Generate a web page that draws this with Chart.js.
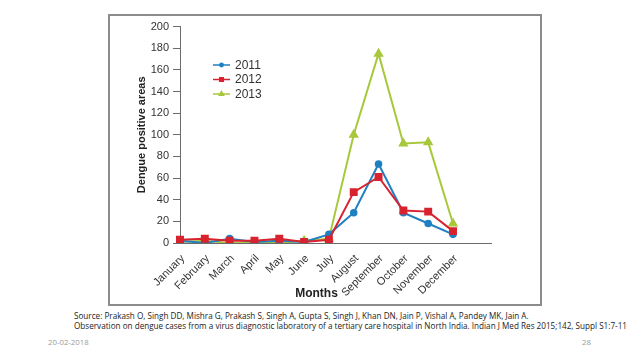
<!DOCTYPE html>
<html>
<head>
<meta charset="utf-8">
<script src="https://cdn.jsdelivr.net/npm/chart.js@4/dist/chart.umd.min.js"></script>
<style>
  html, body { margin: 0; padding: 0; background: #fff; }
  body { width: 638px; height: 359px; position: relative; overflow: hidden; font-family: "Open Sans", "Liberation Sans", sans-serif; }
  #box { position: absolute; left: 108px; top: 14px; width: 434px; height: 292px; box-sizing: border-box; border: 2px solid #8c8c8c; }
  #box canvas { display: block; }
  .src { position: absolute; left: 74px; white-space: nowrap; color: #222; font-size: 8.6px; transform-origin: left center; }
  .foot { position: absolute; top: 337px; color: #9a9a9a; font-size: 7.8px; }
</style>
</head>
<body>
<div id="box"><canvas id="myChart" width="430" height="288"></canvas></div>
<div class="src" id="src1" style="top:310px">Source: Prakash O, Singh DD, Mishra G, Prakash S, Singh A, Gupta S, Singh J, Khan DN, Jain P, Vishal A, Pandey MK, Jain A.</div>
<div class="src" id="src2" style="top:320px">Observation on dengue cases from a virus diagnostic laboratory of a tertiary care hospital in North India. Indian J Med Res 2015;142, Suppl S1:7-11</div>
<div class="foot" style="left:48px">20-02-2018</div>
<div class="foot" style="left:582px">28</div>
<script>
const months = ['January', 'February', 'March', 'April', 'May', 'June', 'July',
  'August', 'September', 'October', 'November', 'December'];
const cases2011 = [2, 0, 4, 1, 2, 1, 8, 28, 73, 28, 18, 8];
const cases2012 = [3, 4, 2, 2, 4, 1, 3, 47, 61, 30, 29, 11];
const cases2013 = [1, 2, 0, 0, 0, 2, 4, 100, 175, 92, 93, 18];
const yTicks = [0, 20, 40, 60, 80, 100, 120, 140, 160, 180, 200];

// stretch the source lines to the slide width
const w2 = document.getElementById('src2').getBoundingClientRect().width;
const k = 553 / w2;
document.getElementById('src1').style.transform = 'scaleX(' + k + ')';
document.getElementById('src2').style.transform = 'scaleX(' + k + ')';

const axisColor = '#6b6b6b';

// legend drawn inside the plot, and the x axis line runs on past December
const insideLegend = {
  id: 'insideLegend',
  afterDraw(chart) {
    const ctx = chart.ctx;
    const area = chart.chartArea;
    ctx.save();
    ctx.strokeStyle = axisColor;
    ctx.lineWidth = 1;
    ctx.beginPath();
    ctx.moveTo(area.right, area.bottom + 0.5);
    ctx.lineTo(area.right + 39, area.bottom + 0.5);
    ctx.stroke();

    ctx.font = '12px Arial, "Liberation Sans"';
    ctx.textBaseline = 'middle';
    chart.data.datasets.forEach((ds, i) => {
      const y = 49 + i * 14.5;
      ctx.strokeStyle = ds.borderColor;
      ctx.lineWidth = 1.5;
      ctx.beginPath();
      ctx.moveTo(103, y);
      ctx.lineTo(120, y);
      ctx.stroke();
      ctx.fillStyle = ds.borderColor;
      Chart.helpers.drawPoint(ctx, { pointStyle: ds.pointStyle, radius: ds.pointRadius * 0.6, borderWidth: 1 }, 111.5, y);
      ctx.fillStyle = '#333';
      ctx.fillText(ds.label, 125, y + 0.5);
    });
    ctx.restore();
  }
};

const ctx = document.getElementById('myChart').getContext('2d');

const myChart = new Chart(ctx, {
  type: 'line',
  data: {
    labels: months,
    datasets: [{
      label: '2011',
      data: cases2011,
      borderColor: '#1f80c2',
      backgroundColor: '#1f80c2',
      borderWidth: 2,
      pointStyle: 'circle',
      pointRadius: 2.8,
      order: 2
    }, {
      label: '2012',
      data: cases2012,
      borderColor: '#d8232e',
      backgroundColor: '#d8232e',
      borderWidth: 2,
      pointStyle: 'rect',
      pointRadius: 4.2,
      order: 1
    }, {
      label: '2013',
      data: cases2013,
      borderColor: '#a8c83c',
      backgroundColor: '#a8c83c',
      borderWidth: 2,
      pointStyle: 'triangle',
      pointRadius: 4,
      order: 3
    }]
  },
  options: {
    responsive: false,
    animation: false,
    layout: { padding: { top: 10, right: 87, left: 0, bottom: 0 } },
    plugins: {
      legend: { display: false },
      tooltip: { enabled: false }
    },
    scales: {
      x: {
        type: 'category',
        offset: false,
        afterFit(scale) { scale.height = 61; },
        grid: { display: false, drawTicks: false },
        border: { display: true, color: axisColor, width: 1 },
        ticks: {
          autoSkip: false,
          maxRotation: 45,
          minRotation: 45,
          labelOffset: 3,
          padding: 9,
          color: '#333',
          font: { size: 11, family: 'Arial, "Liberation Sans"' }
        },
        title: {
          display: true,
          text: 'Months',
          color: '#222',
          padding: { top: 0, bottom: 3 },
          font: { size: 12, weight: 'bold', family: 'Arial, "Liberation Sans"' }
        }
      },
      y: {
        min: 0,
        max: 200,
        afterFit(scale) { scale.width = 70; },
        afterBuildTicks(scale) { scale.ticks = yTicks.map(v => ({ value: v })); },
        grid: { drawOnChartArea: false, drawTicks: true, tickLength: 7, color: axisColor },
        border: { display: true, color: axisColor, width: 1 },
        ticks: {
          padding: 4,
          color: '#333',
          font: { size: 11, family: 'Arial, "Liberation Sans"' }
        },
        title: {
          display: true,
          text: 'Dengue positive areas',
          color: '#222',
          padding: { top: 25, bottom: 0 },
          font: { size: 11, weight: 'bold', family: 'Arial, "Liberation Sans"' }
        }
      }
    }
  },
  plugins: [insideLegend]
});
</script>
</body>
</html>
